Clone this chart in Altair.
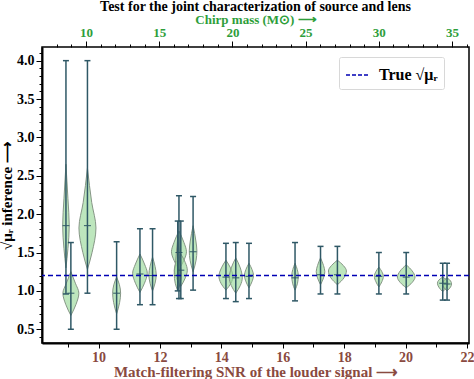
import altair as alt
import pandas as pd

# ---------------- data ----------------
# violin centres on the match-filtering SNR axis
snr = [8.94, 9.10, 9.64, 10.59, 11.35, 11.76, 12.62, 12.68, 12.58, 13.08,
       14.15, 14.47, 14.90, 16.40, 17.23, 17.78, 19.13, 20.02, 21.21, 21.35]
# whisker extent (min / max) and median of each posterior
low = [0.96, 0.50, 0.97, 0.50, 0.82, 0.82, 0.90, 0.90, 1.00, 1.01,
       0.90, 0.86, 0.90, 0.87, 0.96, 0.96, 0.96, 0.96, 0.88, 0.88]
high = [4.00, 1.63, 4.00, 1.64, 1.81, 1.81, 2.24, 1.91, 1.91, 2.23,
        1.62, 1.63, 1.62, 1.63, 1.58, 1.58, 1.50, 1.50, 1.36, 1.36]
median = [1.85, 0.97, 1.85, 0.97, 1.22, 1.20, 1.50, 1.27, 1.20, 1.51,
          1.18, 1.17, 1.19, 1.17, 1.21, 1.21, 1.19, 1.18, 1.10, 1.09]
# violin outline: sample levels and half-widths (in SNR units)
prof_val = [
    [1.30, 1.55, 1.85, 2.20, 2.65], [0.68, 0.82, 0.97, 1.10, 1.25],
    [1.28, 1.50, 1.82, 2.15, 2.60], [0.70, 0.85, 0.97, 1.08, 1.18],
    [0.98, 1.10, 1.23, 1.35, 1.48], [1.00, 1.10, 1.21, 1.32, 1.44],
    [1.28, 1.40, 1.51, 1.63, 1.78], [1.06, 1.17, 1.27, 1.37, 1.48],
    [1.00, 1.10, 1.22, 1.40, 1.70], [1.25, 1.40, 1.52, 1.65, 1.85],
    [1.01, 1.10, 1.19, 1.30, 1.40], [0.97, 1.07, 1.17, 1.30, 1.43],
    [1.04, 1.12, 1.20, 1.28, 1.36], [1.01, 1.10, 1.20, 1.28, 1.36],
    [1.08, 1.17, 1.25, 1.33, 1.43], [1.08, 1.17, 1.26, 1.33, 1.40],
    [1.05, 1.12, 1.19, 1.25, 1.31], [1.04, 1.11, 1.18, 1.26, 1.34],
    [0.99, 1.05, 1.10, 1.14, 1.18], [1.00, 1.05, 1.09, 1.13, 1.17],
]
prof_hw = [
    [0, 0.065, 0.107, 0.065, 0], [0, 0.163, 0.260, 0.147, 0],
    [0, 0.150, 0.277, 0.140, 0], [0, 0.098, 0.130, 0.091, 0],
    [0, 0.147, 0.238, 0.147, 0], [0, 0.081, 0.120, 0.081, 0],
    [0, 0.163, 0.244, 0.163, 0], [0, 0.147, 0.212, 0.147, 0],
    [0, 0.081, 0.114, 0.065, 0], [0, 0.098, 0.124, 0.091, 0],
    [0, 0.163, 0.228, 0.147, 0], [0, 0.147, 0.212, 0.147, 0],
    [0, 0.098, 0.147, 0.098, 0], [0, 0.081, 0.107, 0.072, 0],
    [0, 0.098, 0.140, 0.098, 0], [0, 0.212, 0.293, 0.195, 0],
    [0, 0.098, 0.147, 0.098, 0], [0, 0.195, 0.287, 0.195, 0],
    [0, 0.130, 0.173, 0.130, 0], [0, 0.114, 0.147, 0.114, 0],
]
true_value = 1.2
true_label = "True √μᵣ"

snr_ticks = [9, 10, 11, 12, 13, 14, 15, 16, 17, 18, 19, 20, 21, 22]
chirp_ticks = [8, 9, 10, 11, 12, 13, 14, 15, 16, 17, 18, 19, 20, 21, 22,
               23, 24, 25, 26, 27, 28, 29, 30, 31, 32, 33, 34, 35, 36]
y_ticks = [0.4, 0.5, 0.6, 0.7, 0.8, 0.9, 1.0, 1.1, 1.2, 1.3, 1.4, 1.5, 1.6,
           1.7, 1.8, 1.9, 2.0, 2.1, 2.2, 2.3, 2.4, 2.5, 2.6, 2.7, 2.8, 2.9,
           3.0, 3.1, 3.2, 3.3, 3.4, 3.5, 3.6, 3.7, 3.8, 3.9, 4.0, 4.1]

# ---------------- tables ----------------
stats = pd.DataFrame({"id": list(range(len(snr))), "snr": snr, "low": low,
                      "high": high, "median": median})
rows = []
for i, (vals, hws) in enumerate(zip(prof_val, prof_hw)):
    for v, w in zip(vals, hws):
        rows.append({"id": i, "snr": snr[i], "val": v, "hw": w})
prof = pd.DataFrame(rows)
truth = pd.DataFrame({"true": [true_value], "label": [true_label]})
top_df = pd.DataFrame({"chirp": chirp_ticks})

SERIF = "Liberation Serif"
BROWN = "#8a4a40"
GREEN = "#2e9e3a"
LINE = "#2f5866"

xscale = alt.Scale(domain=[8.16, 22.065], nice=False, zero=False)
yscale = alt.Scale(domain=[0.321, 4.178], nice=False, zero=False)

x_axis = alt.Axis(
    title="Match-filtering SNR of the louder signal ⟶",
    values=snr_ticks,
    labelExpr="datum.value % 2 === 0 ? datum.label : ''",
    tickSize={"condition": {"test": "datum.value % 2 === 0", "value": 5}, "value": 4},
    labelColor=BROWN, titleColor=BROWN, labelFont=SERIF, titleFont=SERIF,
    labelFontSize=14, titleFontSize=15, labelFontWeight="bold",
    titleFontWeight="bold", grid=False, labelPadding=2, titlePadding=0,
    domainColor="black", domainWidth=2, tickColor="black",
)
y_axis = alt.Axis(
    title="√μᵣ inference ⟶",
    values=y_ticks,
    labelExpr="abs(datum.value*2 - round(datum.value*2)) < 0.001 ? format(datum.value, '.1f') : ''",
    tickSize={"condition": {"test": "abs(datum.value*2 - round(datum.value*2)) < 0.001", "value": 6}, "value": 3},
    labelColor="black", titleColor="black", labelFont=SERIF, titleFont=SERIF,
    labelFontSize=14, titleFontSize=15, labelFontWeight="bold",
    titleFontWeight="bold", grid=False, labelPadding=2, titlePadding=2,
    domainColor="black", domainWidth=2, tickColor="black",
)

violins = alt.Chart(prof).transform_calculate(
    xl="datum.snr - datum.hw", xr="datum.snr + datum.hw"
).mark_area(
    orient="horizontal", interpolate="monotone", color="#9ad89a",
    fillOpacity=0.65, stroke="#869686", strokeWidth=1,
).encode(
    y=alt.Y("val:Q", scale=yscale, axis=y_axis),
    x=alt.X("xl:Q", scale=xscale, axis=x_axis),
    x2="xr:Q",
    detail="id:N",
)

whisk = alt.Chart(stats).mark_rule(color=LINE, strokeWidth=1.5).encode(
    x=alt.X("snr:Q", scale=xscale, axis=x_axis),
    y=alt.Y("low:Q", scale=yscale, axis=y_axis),
    y2="high:Q",
)
cap_lo = alt.Chart(stats).mark_tick(orient="horizontal", color=LINE, size=6, thickness=1.5, opacity=1).encode(
    x=alt.X("snr:Q", scale=xscale, axis=x_axis),
    y=alt.Y("low:Q", scale=yscale, axis=y_axis),
)
cap_hi = alt.Chart(stats).mark_tick(orient="horizontal", color=LINE, size=6, thickness=1.5, opacity=1).encode(
    x=alt.X("snr:Q", scale=xscale, axis=x_axis),
    y=alt.Y("high:Q", scale=yscale, axis=y_axis),
)
med = alt.Chart(stats).mark_tick(orient="horizontal", color=LINE, size=7, thickness=1, opacity=1).encode(
    x=alt.X("snr:Q", scale=xscale, axis=x_axis),
    y=alt.Y("median:Q", scale=yscale, axis=y_axis),
)

true_rule = alt.Chart(truth).mark_rule(strokeDash=[5, 3], strokeWidth=1.6).encode(
    y=alt.Y("true:Q", scale=yscale, axis=y_axis),
    color=alt.Color(
        "label:N", scale=alt.Scale(range=["#0000b4"]),
        legend=alt.Legend(
            title=None, orient="none", legendX=297, legendY=10,
            symbolType="stroke", symbolDash=[4, 2], symbolStrokeWidth=1.6,
            symbolSize=484, labelFont=SERIF, labelFontSize=16,
            labelFontWeight="bold", labelColor="black", labelOffset=10,
            fillColor="white", strokeColor="#d8d8d8", padding=6,
            cornerRadius=2,
        ),
    ),
)

main = alt.layer(violins, whisk, cap_lo, cap_hi, med, true_rule)

top = alt.Chart(top_df).mark_point(opacity=0).encode(
    x=alt.X(
        "chirp:Q",
        scale=alt.Scale(domain=[6.995, 36.16], nice=False, zero=False),
        axis=alt.Axis(
            orient="top", title="Chirp mass (M⊙) ⟶", values=chirp_ticks,
            labelExpr="datum.value % 5 === 0 ? datum.label : ''",
            tickSize={"condition": {"test": "datum.value % 5 === 0", "value": 6}, "value": 3},
            labelColor=GREEN, titleColor=GREEN, labelFont=SERIF,
            titleFont=SERIF, labelFontSize=13, titleFontSize=13,
            labelFontWeight="bold", titleFontWeight="bold", grid=False,
            labelPadding=2, titlePadding=0, domain=False, tickColor="black",
        ),
    ),
    y=alt.Y("chirp:Q", axis=None, scale=alt.Scale(domain=[0, 100])),
)

chart = alt.layer(main, top).resolve_scale(x="independent", y="independent").properties(
    width=427, height=296,
    autosize=alt.AutoSizeParams(type="none"),
    padding={"left": 42, "top": 47, "right": 5, "bottom": 36},
    background="white",
    title=alt.TitleParams(
        "Test for the joint characterization of source and lens",
        font=SERIF, fontSize=14, fontWeight="bold", color="black",
        anchor="middle", offset=-1,
    ),
).configure_view(stroke="black", strokeWidth=1.5)

chart.save("out.html", embed_options={"renderer": "svg", "actions": False})
